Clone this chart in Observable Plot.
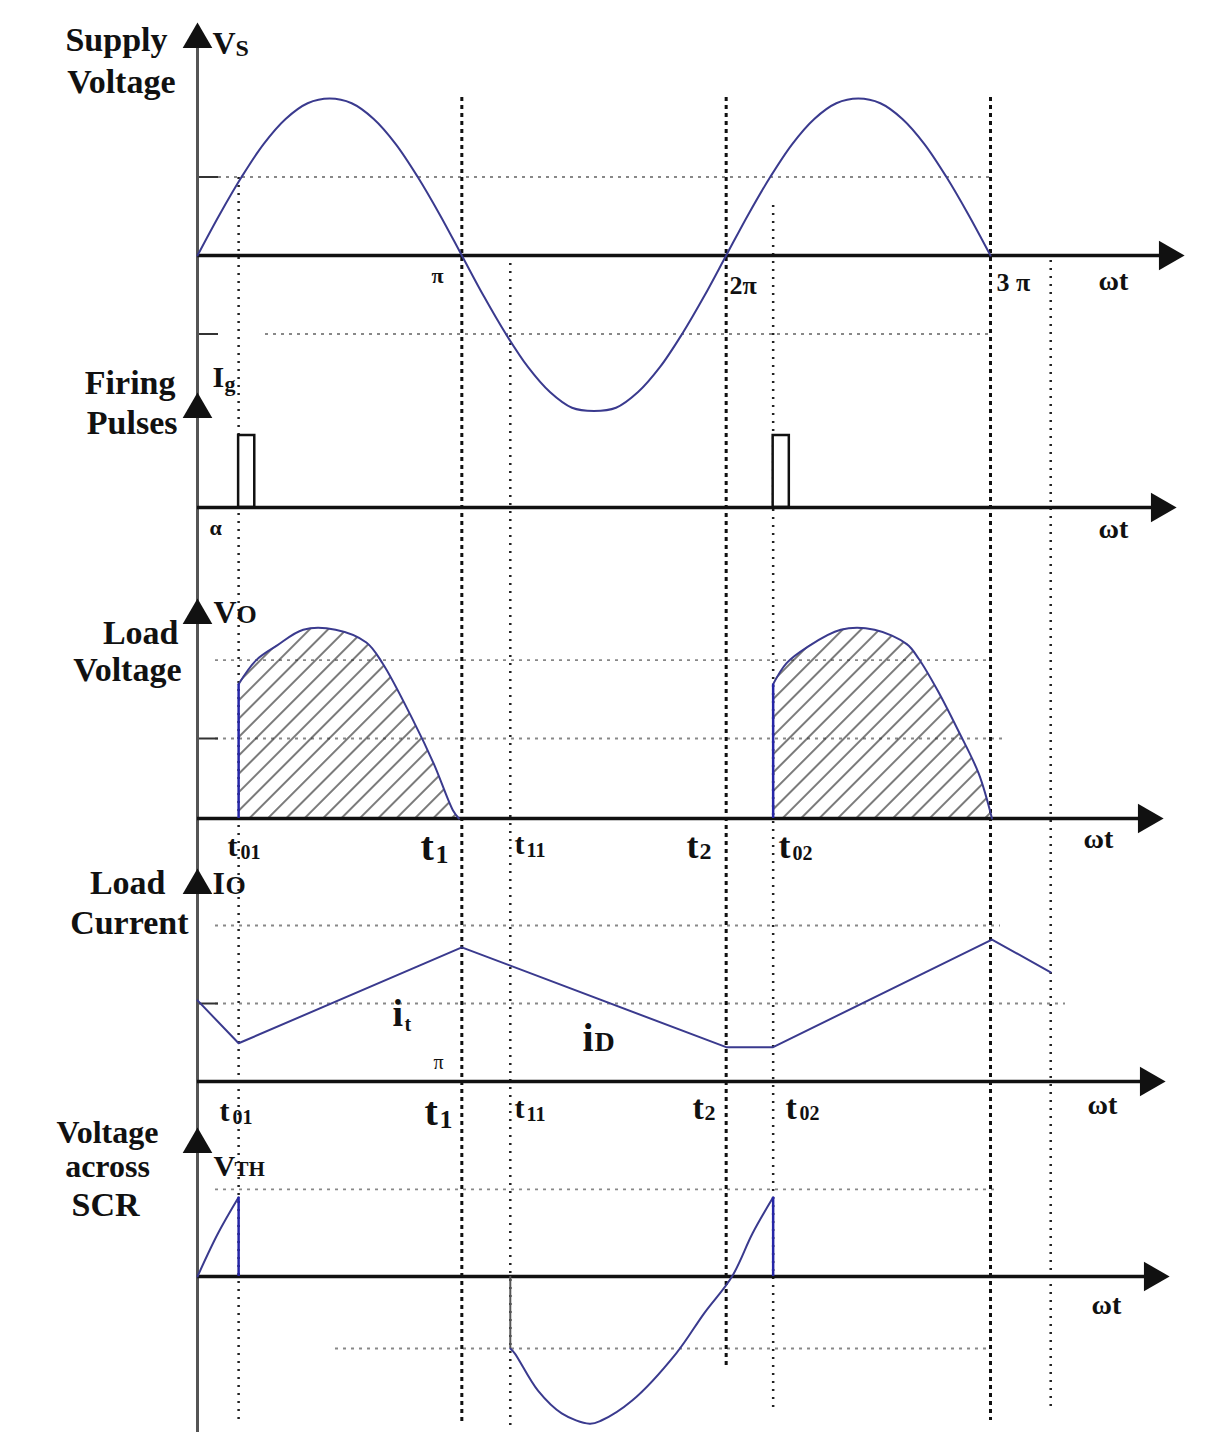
<!DOCTYPE html>
<html><head><meta charset="utf-8">
<script src="https://cdn.jsdelivr.net/npm/d3@7"></script>
<script src="https://cdn.jsdelivr.net/npm/@observablehq/plot@0.6"></script>
<style>body{margin:0;background:#fff}#chart svg{display:block}</style>
</head><body><div id="chart"></div>
<script>
// ---------------- DATA (angles in degrees of ωt) ----------------
const supplyAngle = [0,15,30,45,60,75,90,105,120,135,150,165,180,195,210,225,240,255,270,285,300,315,330,345,360,375,390,405,420,435,450,465,480,495,510,525,540];
const supplyValue = [0,0.26,0.5,0.71,0.87,0.97,1,0.97,0.87,0.71,0.5,0.26,0,-0.26,-0.5,-0.71,-0.87,-0.97,-0.99,-0.97,-0.87,-0.71,-0.5,-0.26,0,0.26,0.5,0.71,0.87,0.97,1,0.97,0.87,0.71,0.5,0.26,0];

const pulseStart = [28, 392];
const pulseEnd = [39, 403];
const pulseValue = [1, 1];

const loadAngle1 = [28, 40, 54, 72, 94, 115, 126, 147, 161, 174, 178];
const loadValue1 = [0.84, 0.99, 1.08, 1.18, 1.18, 1.10, 0.97, 0.61, 0.34, 0.05, 0];
const loadAngle2 = [392, 401, 415, 438, 461, 483, 491, 504, 518, 532, 541];
const loadValue2 = [0.84, 0.97, 1.07, 1.18, 1.18, 1.09, 1.0, 0.8, 0.55, 0.28, 0];

const currentAngle = [0, 28, 180, 360, 392, 541, 581];
const currentValue = [1.04, 0.49, 1.72, 0.44, 0.44, 1.82, 1.40];

const scrAngle1 = [0, 14, 28];
const scrValue1 = [0, 0.54, 0.99];
const scrAngle2 = [213, 216, 232, 248, 267, 275, 296, 326, 345, 364, 378, 392];
const scrValue2 = [-0.9, -0.96, -1.43, -1.71, -1.84, -1.8, -1.55, -0.96, -0.46, 0, 0.54, 0.99];

const markerAngles = [28, 180, 213, 360, 392, 540, 581];
const piTickLabels = ["π", "2π", "3 π"];
const panelTitles = [["Supply","Voltage"],["Firing","Pulses"],["Load","Voltage"],["Load","Current"],["Voltage","across","SCR"]];
const axisSymbols = [["V","S"],["I","g"],["V","O"],["I","O"],["V","TH"]];
const instantLabels = [["t","01"],["t","1"],["t","11"],["t","2"],["t","02"]];

// ---------------- LAYOUT (positions / styles) ----------------
const X0 = 197, XPI3 = 990;               // pixel of ωt = 0 and ωt = 3π
const panels = [
  {base:255,  unit:157, tip:1184, yTip:22},
  {base:507,  unit:72,  tip:1176, yTip:392},
  {base:818,  unit:160, tip:1163, yTip:598},
  {base:1081, unit:78,  tip:1165, yTip:868},
  {base:1276, unit:80,  tip:1169, yTip:1127}
];
const px2x = px => (px - X0) * 540 / (XPI3 - X0);
const toY = (p, v) => panels[p].base - v * panels[p].unit;
const BLUE = "#3a3a8e", EDGE = "#2626a8", SERIF = "Liberation Serif, Times New Roman, serif";

const vExtent = [[177,1420,false],[97,1425,true],[255,1430,false],[97,1368,true],[205,1410,false],[97,1420,true],[260,1410,false]];
const vlines = markerAngles.map((a,i)=>({a, y1:vExtent[i][0], y2:vExtent[i][1], heavy:vExtent[i][2]}));

const grid = [
  {p:0,v:0.5,a:218,b:990},{p:0,v:-0.5,a:265,b:990},
  {p:2,v:0.99,a:215,b:988},{p:2,v:0.5,a:215,b:1005},
  {p:3,v:2.0,a:215,b:1000},{p:3,v:1.0,a:215,b:1065},
  {p:4,v:1.09,a:215,b:995},{p:4,v:-0.9,a:335,b:990}
];
const yTicks = [{p:0,v:0.5},{p:0,v:-0.5},{p:2,v:0.5},{p:3,v:1.0}];

// text labels: px, py = baseline in pixels
const labels = [];
const L = (text, px, py, size, anchor="start", weight="bold") => labels.push({text, px, py, size, anchor, weight});
const titlePos = [
  [[167,50,"end",34],[175,92,"end",34]],
  [[175,393,"end",34],[177,433,"end",34]],
  [[178,643,"end",34],[181,680,"end",34]],
  [[165,893,"end",34],[188,933,"end",34]],
  [[107,1142,"middle",32],[107,1176,"middle",32],[105,1215,"middle",34]]
];
panelTitles.forEach((lines,i)=>lines.forEach((t,j)=>L(t, titlePos[i][j][0], titlePos[i][j][1], titlePos[i][j][3], titlePos[i][j][2])));
const symPos = [[212,53,32,235,55,24],[212,386,30,224,390,22],[213,622,32,236,622,26],[212,893,32,225,893,26],[213,1175,30,234,1175,21]];
axisSymbols.forEach((s,i)=>{const q=symPos[i]; L(s[0],q[0],q[1],q[2]); L(s[1],q[3],q[4],q[5]);});
L(piTickLabels[0], 437, 282, 22, "middle");
L(piTickLabels[1], 729, 293, 26);
L(piTickLabels[2], 996, 290, 26);
[[1098,289],[1098,537],[1083,847],[1087,1113],[1091,1313]].forEach(([x,y])=>L("ωt", x, y, 28));
L("α", 209, 534, 22);
const inst3 = [[227,855,30,240,858,20],[420,859,40,435,862,26],[514,853,30,526,856,20],[686,857,36,699,858,24],[778,857,36,792,859,20]];
const inst4 = [[219,1120,30,232,1123,20],[424,1124,40,439,1127,26],[514,1117,30,526,1120,20],[692,1118,34,704,1119,22],[785,1118,34,799,1119,20]];
[inst3, inst4].forEach(pos => instantLabels.forEach((t,i)=>{const q=pos[i]; L(t[0],q[0],q[1],q[2]); L(t[1],q[3],q[4],q[5]);}));
L("i", 392, 1025, 38); L("t", 404, 1030, 20);
L("i", 582, 1050, 40); L("D", 594, 1050, 28);
L("π", 438, 1068, 20, "middle", "normal");

// ---------------- build tables ----------------
const supply = supplyAngle.map((a,i)=>({a, v:supplyValue[i]}));
const pulses = pulseStart.map((s,i)=>({s, e:pulseEnd[i], v:pulseValue[i]}));
const load1 = loadAngle1.map((a,i)=>({a, v:loadValue1[i]}));
const load2 = loadAngle2.map((a,i)=>({a, v:loadValue2[i]}));
const current = currentAngle.map((a,i)=>({a, v:currentValue[i]}));
const scr1 = scrAngle1.map((a,i)=>({a, v:scrValue1[i]}));
const scr2 = scrAngle2.map((a,i)=>({a, v:scrValue2[i]}));

const textMarks = [];
for (const anchor of ["start","middle","end"]) for (const weight of ["bold","normal"]) {
  const d = labels.filter(l=>l.anchor===anchor && l.weight===weight);
  if (d.length) textMarks.push(Plot.text(d, {x:l=>px2x(l.px), y:"py", text:"text", fontSize:"size",
    textAnchor:anchor, lineAnchor:"bottom", fontWeight:weight, fontFamily:SERIF, fill:"#111"}));
}

const svg = Plot.plot({
  width:1219, height:1438, margin:0,
  x:{domain:[0,540], range:[X0, XPI3], axis:null},
  y:{type:"identity", axis:null},
  style:{background:"#fff", overflow:"visible"},
  marks:[
    // grid
    Plot.ruleY(grid, {y:d=>toY(d.p,d.v), x1:d=>px2x(d.a), x2:d=>px2x(d.b), stroke:"#888", strokeWidth:1.8, strokeDasharray:"3,5"}),
    Plot.ruleY(yTicks, {y:d=>toY(d.p,d.v), x1:0, x2:px2x(218), stroke:"#333", strokeWidth:2}),
    // vertical reference lines
    Plot.ruleX(vlines.filter(d=>d.heavy), {x:"a", y1:"y1", y2:"y2", stroke:"#111", strokeWidth:3, strokeDasharray:"4,4"}),
    Plot.ruleX(vlines.filter(d=>!d.heavy), {x:"a", y1:"y1", y2:"y2", stroke:"#222", strokeWidth:2.5, strokeDasharray:"2,6"}),
    // load voltage hatched areas
    Plot.area(load1, {x1:"a", y1:toY(2,0), y2:d=>toY(2,d.v), fill:"url(#hatch)", curve:"catmull-rom"}),
    Plot.area(load2, {x1:"a", y1:toY(2,0), y2:d=>toY(2,d.v), fill:"url(#hatch)", curve:"catmull-rom"}),
    // firing pulses
    Plot.rect(pulses, {x1:"s", x2:"e", y1:toY(1,0), y2:d=>toY(1,d.v), fill:"#fff", stroke:"#111", strokeWidth:2.5}),
    // y axis
    Plot.ruleX([0], {y1:35, y2:1432, stroke:"#555", strokeWidth:3}),
    // x axes
    Plot.ruleY(panels, {y:"base", x1:0, x2:d=>px2x(d.tip-22), stroke:"#111", strokeWidth:3.5}),
    Plot.dot(panels, {x:d=>px2x(d.tip-17), y:"base", symbol:"triangle", r:11, fill:"#111", rotate:90}),
    Plot.dot(panels, {x:0, y:d=>d.yTip+17, symbol:"triangle", r:11, fill:"#111"}),
    // supply voltage
    Plot.line(supply, {x:"a", y:d=>toY(0,d.v), stroke:BLUE, strokeWidth:2, curve:"catmull-rom"}),
    // load voltage outline
    Plot.line(load1, {x:"a", y:d=>toY(2,d.v), stroke:BLUE, strokeWidth:2, curve:"catmull-rom"}),
    Plot.line(load2, {x:"a", y:d=>toY(2,d.v), stroke:BLUE, strokeWidth:2, curve:"catmull-rom"}),
    Plot.ruleX([load1[0], load2[0]], {x:"a", y1:toY(2,0), y2:d=>toY(2,d.v), stroke:EDGE, strokeWidth:2.5}),
    // load current
    Plot.line(current, {x:"a", y:d=>toY(3,d.v), stroke:BLUE, strokeWidth:2}),
    // voltage across SCR
    Plot.line(scr1, {x:"a", y:d=>toY(4,d.v), stroke:BLUE, strokeWidth:2, curve:"catmull-rom"}),
    Plot.line(scr2, {x:"a", y:d=>toY(4,d.v), stroke:BLUE, strokeWidth:2, curve:"catmull-rom"}),
    Plot.ruleX([scr1[scr1.length-1], scr2[scr2.length-1]], {x:"a", y1:toY(4,0), y2:d=>toY(4,d.v), stroke:EDGE, strokeWidth:2.5}),
    Plot.ruleX([scr2[0]], {x:"a", y1:toY(4,0), y2:d=>toY(4,d.v), stroke:"#555", strokeWidth:2}),
    ...textMarks
  ]
});

const ns = "http://www.w3.org/2000/svg";
const defs = document.createElementNS(ns, "defs");
defs.innerHTML = '<pattern id="hatch" patternUnits="userSpaceOnUse" width="13" height="13" patternTransform="rotate(45)"><line x1="1" y1="0" x2="1" y2="13" stroke="#333" stroke-width="1.3"/></pattern>';
svg.insertBefore(defs, svg.firstChild);
document.getElementById("chart").appendChild(svg);
</script></body></html>
